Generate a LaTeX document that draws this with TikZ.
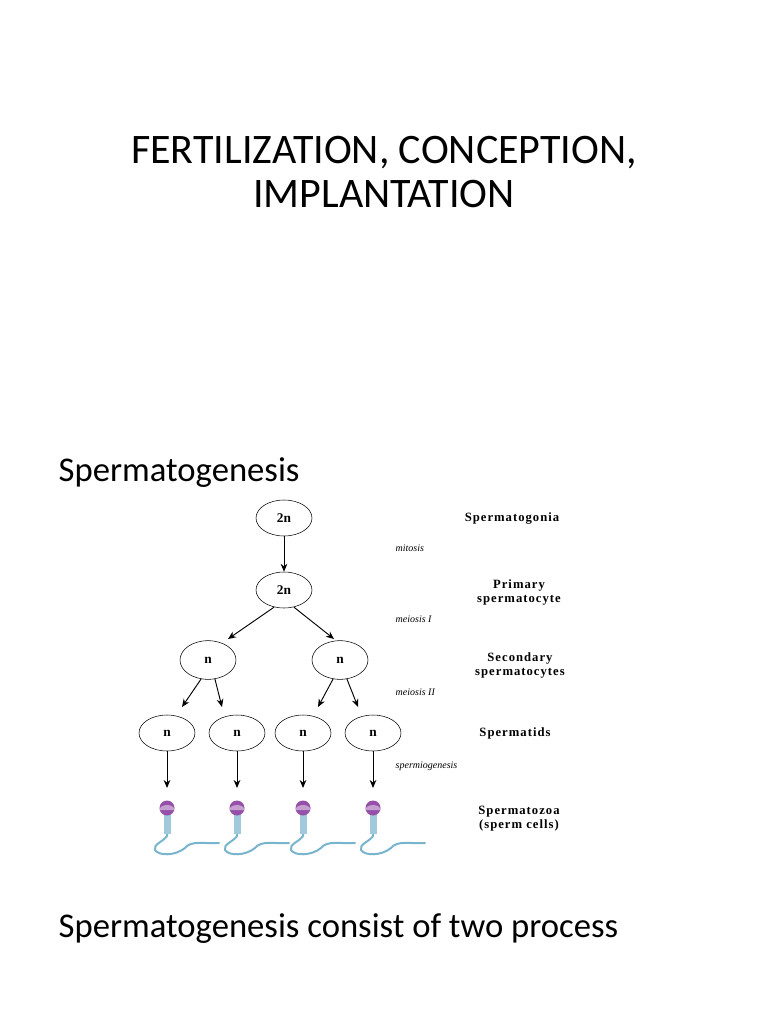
\documentclass[tikz,border=0pt]{standalone}
\usepackage{fontspec}
\setmainfont{Liberation Serif}
\newfontfamily\carlitofont{Carlito}
\newfontfamily\widefont[LetterSpace=8]{Liberation Serif}
\usetikzlibrary{arrows.meta,shapes.geometric}
\definecolor{spblue}{RGB}{120,180,205}
\definecolor{sppurple}{RGB}{150,80,170}
\tikzset{
 cell/.style={draw,ellipse,minimum width=42pt,minimum height=27pt,inner sep=0pt,font=\bfseries\fontsize{10}{11}\selectfont},
 arr/.style={-{Stealth[length=6pt,width=5pt]},line width=0.7pt},
 lab/.style={font=\widefont\bfseries\fontsize{9.5}{10.5}\selectfont,align=center},
 proc/.style={font=\itshape\fontsize{7.5}{8}\selectfont,anchor=west},
}
\begin{document}
\begin{tikzpicture}[x=0.75pt,y=-0.75pt]
\useasboundingbox (0,0) rectangle (768,1024);
\node[font=\carlitofont\fontsize{31.5}{32.5}\selectfont,align=center] (title) at (384,172) {FERTILIZATION, CONCEPTION,\\IMPLANTATION};
\node[font=\carlitofont\fontsize{26}{28}\selectfont,anchor=west] (h1) at (54,473) {Spermatogenesis};
\node[font=\carlitofont\fontsize{26}{28}\selectfont,anchor=west] (h2) at (54,929) {Spermatogenesis consist of two process};

\node[cell] (a) at (284,518) {2n};
\node[cell] (b) at (284,590) {2n};
\node[cell,minimum height=29pt] (c1) at (208,660) {n};
\node[cell,minimum height=29pt] (c2) at (340,660) {n};
\node[cell] (d1) at (167,733) {n};
\node[cell] (d2) at (237,733) {n};
\node[cell] (d3) at (303,733) {n};
\node[cell] (d4) at (373,733) {n};

\draw[arr] (a) -- (b);
\draw[arr] (b.240) -- (228,639);
\draw[arr] (b.300) -- (334,639);
\draw[arr] (c1.250) -- (182,707);
\draw[arr] (c1.290) -- (222,707);
\draw[arr] (c2.250) -- (318,707);
\draw[arr] (c2.290) -- (358,707);

\foreach \x/\n in {167/1,237/2,303/3,373/4}{
 \coordinate (s\n) at (\x,788);
 \draw[arr] (d\n) -- (s\n);
 \begin{scope}[shift={(\x,808)}]
  \draw[spblue,line width=1.5pt,line cap=round] (0,4) -- (0,28) .. controls (-4,34) and (-14,36) .. (-12,42) .. controls (-8,48) and (8,48) .. (18,40) .. controls (24,32) and (38,36) .. (52,35);
  \fill[spblue!70] (-3.5,4) rectangle (3.5,26);
  \fill[sppurple] (0,0) circle (7.5);
  \fill[sppurple!55] (-7.5,2) arc (180:360:7.5 and 5) -- cycle;
 \end{scope}
}

\node[lab] (l1) at (512,518) {Spermatogonia};
\node[proc] (p1) at (391,548) {mitosis};
\node[lab] (l2) at (519,592) {Primary\\spermatocyte};
\node[proc] (p2) at (391,619) {meiosis I};
\node[lab] (l3) at (520,665) {Secondary\\spermatocytes};
\node[proc] (p3) at (391,692) {meiosis II};
\node[lab] (l4) at (515,733) {Spermatids};
\node[proc] (p4) at (391,766) {spermiogenesis};
\node[lab] (l5) at (519,819) {Spermatozoa\\(sperm cells)};
\end{tikzpicture}
\end{document}
